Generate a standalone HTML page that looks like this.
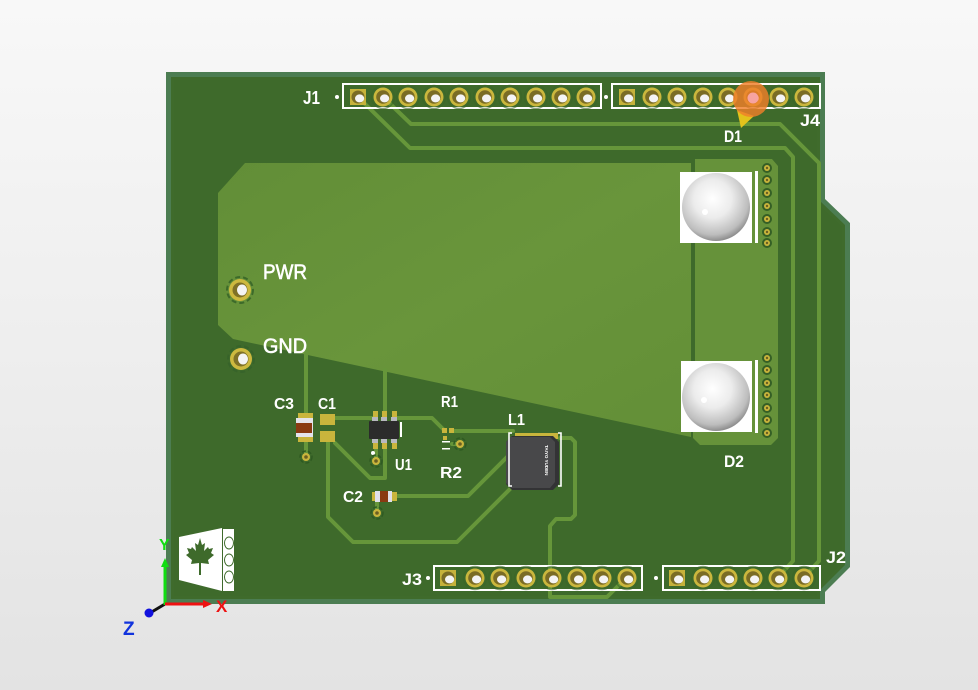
<!DOCTYPE html>
<html><head><meta charset="utf-8"><style>
html,body{margin:0;padding:0;width:978px;height:690px;overflow:hidden;}
body{background:linear-gradient(#f8f8f8 0%,#eeeeee 50%,#e3e3e3 100%);}
svg{display:block}
text{font-family:"Liberation Sans","DejaVu Sans",sans-serif;font-weight:bold;fill:#ffffff}
</style></head><body>
<svg width="978" height="690" viewBox="0 0 978 690" xmlns="http://www.w3.org/2000/svg">
<defs>
  <radialGradient id="sph" cx="0.45" cy="0.38" r="0.62">
    <stop offset="0" stop-color="#ffffff"/>
    <stop offset="0.45" stop-color="#ececec"/>
    <stop offset="0.85" stop-color="#bdbdbd"/>
    <stop offset="1" stop-color="#8f8f8f"/>
  </radialGradient>
  <linearGradient id="pour" x1="0" y1="0" x2="1" y2="1">
    <stop offset="0" stop-color="#628e37"/>
    <stop offset="0.5" stop-color="#69953b"/>
    <stop offset="1" stop-color="#638f37"/>
  </linearGradient>
  <g id="rp">
    <circle r="11.5" fill="none" stroke="#3a6528" stroke-width="1.5" stroke-opacity="0.6"/>
    <circle r="9.5" fill="#cbb73d"/>
    <circle r="6.8" fill="#7a6c25"/>
    <ellipse cx="1.6" cy="1.4" rx="4.6" ry="4" fill="#f4f4f4"/>
  </g>
  <g id="sp">
    <rect x="-8" y="-8" width="16" height="16" fill="#c6b23b"/>
    <circle r="6.5" fill="#7a6c25"/>
    <ellipse cx="1.6" cy="1.4" rx="4.6" ry="4" fill="#f4f4f4"/>
  </g>
  <g id="via">
    <circle r="6" fill="none" stroke="#2f5a22" stroke-width="1.5" stroke-dasharray="4 2"/>
    <circle r="4" fill="#c9b53c"/>
    <circle r="1.8" fill="#6b5f22"/>
  </g>
  <g id="dp">
    <circle r="5" fill="#355f25"/>
    <circle r="3" fill="#c9b53c"/>
    <circle r="1.2" fill="#6b5f22"/>
  </g>
</defs>

<!-- board -->
<polygon points="166,72 825,72 825,199 850,223 850,567 825,592 825,604 166,604" fill="#4c7d52"/>
<polygon points="171,77 820,77 820,201 845,225 845,565 820,590 820,599 171,599" fill="#3f6b2c"/>
<polygon points="174,80 817,80 817,203 842,227 842,563 817,588 817,596 174,596" fill="#3e6a2b"/>

<!-- copper pour -->
<polygon points="218,193 245,163 691,163 691,437 233,339 218,325" fill="url(#pour)"/>
<polygon points="695,159 772,159 778,166 778,438 771,445 700,445 693,438 693,420 695,420" fill="#66923a"/>

<!-- traces -->
<g fill="none" stroke="#66963a" stroke-width="4" stroke-linejoin="round" stroke-linecap="round">
  <polyline points="358,97 410,148 785,148 793,157 793,561 778,577"/>
  <polyline points="383,97 411,124 780,124 819,163 819,561 804,577"/>
  <polyline points="306,338 306,414"/>
  <polyline points="385,370 385,414"/>
  <polyline points="335,418 372,418"/>
  <polyline points="397,418 432,418 444,430"/>
  <polyline points="452,431 513,431"/>
  <polyline points="328,442 328,517 353,542 457,542 515,484"/>
  <polyline points="335,443 370,478 385,478 385,446"/>
  <polyline points="396,496 468,496 508,456"/>
  <polyline points="560,438 571,438 575,442 575,515 571,519 556,519 550,526 550,597 607,597 626,578"/>
  <polyline points="306,442 306,457"/>
  <polyline points="376,449 376,461"/>
  <polyline points="377,500 377,513"/>
  <polyline points="452,444 460,444"/>
</g>

<!-- J1 -->
<rect x="343" y="84" width="258" height="24" fill="none" stroke="#ffffff" stroke-width="2"/>
<circle cx="337" cy="97" r="2" fill="#fff"/>
<use href="#sp" x="358" y="97"/>
<use href="#rp" x="383" y="97"/><use href="#rp" x="408" y="97"/><use href="#rp" x="434" y="97"/>
<use href="#rp" x="459" y="97"/><use href="#rp" x="485" y="97"/><use href="#rp" x="510" y="97"/>
<use href="#rp" x="536" y="97"/><use href="#rp" x="561" y="97"/><use href="#rp" x="586" y="97"/>
<text x="303" y="104" font-size="18" textLength="17" lengthAdjust="spacingAndGlyphs">J1</text>

<!-- J4 -->
<rect x="612" y="84" width="208" height="24" fill="none" stroke="#ffffff" stroke-width="2"/>
<circle cx="606" cy="97" r="2" fill="#fff"/>
<use href="#sp" x="627" y="97"/>
<use href="#rp" x="652" y="97"/><use href="#rp" x="677" y="97"/><use href="#rp" x="703" y="97"/>
<use href="#rp" x="728" y="97"/><use href="#rp" x="753" y="97"/><use href="#rp" x="779" y="97"/>
<use href="#rp" x="804" y="97"/>
<text x="800" y="126" font-size="17" textLength="20" lengthAdjust="spacingAndGlyphs">J4</text>

<!-- D1 marker -->
<polygon points="737,110 754,116 741,128" fill="#e3c21c"/>
<circle cx="751" cy="99" r="18" fill="#f07f2a" fill-opacity="0.82"/>
<circle cx="753" cy="98" r="5.5" fill="#f7a3a0"/>
<text x="724" y="142" font-size="17" textLength="18" lengthAdjust="spacingAndGlyphs">D1</text>

<!-- D1 -->
<rect x="680" y="172" width="72" height="71" fill="#ffffff"/>
<circle cx="716" cy="207" r="34" fill="url(#sph)"/>
<circle cx="705" cy="212" r="3" fill="#ffffff"/>
<rect x="755" y="171" width="3" height="72" fill="#ffffff"/>
<use href="#dp" x="767" y="168"/><use href="#dp" x="767" y="180"/><use href="#dp" x="767" y="193"/>
<use href="#dp" x="767" y="206"/><use href="#dp" x="767" y="219"/><use href="#dp" x="767" y="232"/>
<use href="#dp" x="767" y="243"/>

<!-- D2 -->
<rect x="681" y="361" width="71" height="71" fill="#ffffff"/>
<circle cx="716" cy="397" r="34" fill="url(#sph)"/>
<circle cx="704" cy="400" r="3" fill="#ffffff"/>
<rect x="755" y="360" width="3" height="73" fill="#ffffff"/>
<use href="#dp" x="767" y="358"/><use href="#dp" x="767" y="370"/><use href="#dp" x="767" y="383"/>
<use href="#dp" x="767" y="395"/><use href="#dp" x="767" y="408"/><use href="#dp" x="767" y="420"/>
<use href="#dp" x="767" y="433"/>
<text x="724" y="467" font-size="17" textLength="20" lengthAdjust="spacingAndGlyphs">D2</text>

<!-- PWR / GND -->
<circle cx="240" cy="290" r="13" fill="none" stroke="#3d6a2a" stroke-width="2" stroke-dasharray="5 3"/>
<circle cx="240" cy="290" r="11" fill="#cdb93f"/>
<circle cx="240" cy="290" r="7.5" fill="#7f7127"/>
<ellipse cx="242" cy="290" rx="5" ry="5.5" fill="#f4f4f4"/>
<circle cx="241" cy="359" r="13" fill="none" stroke="#37632a" stroke-width="2" stroke-dasharray="5 3"/>
<circle cx="241" cy="359" r="11" fill="#cdb93f"/>
<circle cx="241" cy="359" r="7.5" fill="#7f7127"/>
<ellipse cx="243" cy="359" rx="5" ry="5.5" fill="#f4f4f4"/>
<text x="263" y="279" font-size="21" textLength="44" lengthAdjust="spacingAndGlyphs" style="font-weight:normal;stroke:#fff;stroke-width:0.6">PWR</text>
<text x="263" y="353" font-size="21" textLength="44" lengthAdjust="spacingAndGlyphs" style="font-weight:normal;stroke:#fff;stroke-width:0.6">GND</text>

<!-- C3 -->
<rect x="298" y="413" width="15" height="29" fill="#c9b53c"/>
<rect x="296" y="418" width="17" height="19" fill="#e4e4ec"/>
<rect x="296" y="423" width="16" height="10" fill="#8a3a12"/>
<use href="#via" x="306" y="457"/>
<text x="274" y="409" font-size="16" textLength="20" lengthAdjust="spacingAndGlyphs">C3</text>

<!-- C1 -->
<rect x="320" y="414" width="15" height="11" fill="#c9b53c"/>
<rect x="320" y="431" width="15" height="11" fill="#c9b53c"/>
<text x="318" y="409" font-size="16" textLength="18" lengthAdjust="spacingAndGlyphs">C1</text>

<!-- U1 -->
<g fill="#c9b53c">
  <rect x="373" y="411" width="5" height="11"/><rect x="382" y="411" width="5" height="11"/><rect x="392" y="411" width="5" height="11"/>
  <rect x="373" y="438" width="5" height="11"/><rect x="382" y="438" width="5" height="11"/><rect x="392" y="438" width="5" height="11"/>
</g>
<g fill="#b8b8c0">
  <rect x="372" y="417" width="6" height="4"/><rect x="381" y="417" width="6" height="4"/><rect x="391" y="417" width="6" height="4"/>
  <rect x="372" y="439" width="6" height="4"/><rect x="381" y="439" width="6" height="4"/><rect x="391" y="439" width="6" height="4"/>
</g>
<rect x="369" y="421" width="30" height="18" rx="1" fill="#2b2b2b"/>
<rect x="400" y="422" width="2" height="15" fill="#ffffff"/>
<circle cx="373" cy="453" r="2" fill="#ffffff"/>
<use href="#via" x="376" y="461"/>
<text x="395" y="470" font-size="16" textLength="17" lengthAdjust="spacingAndGlyphs">U1</text>

<!-- R1 / R2 -->
<rect x="442" y="428" width="5" height="5" fill="#c9b53c"/>
<rect x="449" y="428" width="5" height="5" fill="#c9b53c"/>
<rect x="443" y="436" width="4" height="4" fill="#c9b53c"/>
<rect x="442" y="441" width="8" height="1.5" fill="#ffffff"/>
<rect x="442" y="448" width="8" height="1.5" fill="#ffffff"/>
<use href="#via" x="460" y="444"/>
<text x="441" y="407" font-size="16" textLength="17" lengthAdjust="spacingAndGlyphs">R1</text>
<text x="440" y="478" font-size="16" textLength="22" lengthAdjust="spacingAndGlyphs">R2</text>

<!-- L1 -->
<rect x="515" y="433" width="43" height="6" fill="#c9b53c"/>
<path d="M512,436 L553,436 L559,442 L559,484 L553,490 L512,490 L506,484 L506,442 Z" fill="#333335"/>
<path d="M510,437 L550,437 L555,442 L555,482 L550,488 L511,488 L506,483 L506,442 Z" fill="#48484a"/>
<text x="0" y="0" font-size="4.5" font-weight="normal" transform="translate(545,445) rotate(90)" fill="#dddddd">TAIYO YUDEN</text>
<g fill="none" stroke="#ffffff" stroke-width="1.6">
  <polyline points="512,433 509,433 509,486 512,486"/>
  <polyline points="558,433 561,433 561,486 558,486"/>
</g>
<text x="508" y="425" font-size="16" textLength="17" lengthAdjust="spacingAndGlyphs">L1</text>

<!-- C2 -->
<rect x="372" y="492" width="25" height="9" fill="#c9b53c"/>
<rect x="375" y="491" width="17" height="11" fill="#e0e0ea"/>
<rect x="380" y="491" width="8" height="11" fill="#8a3a12"/>
<use href="#via" x="377" y="513"/>
<text x="343" y="502" font-size="16" textLength="20" lengthAdjust="spacingAndGlyphs">C2</text>

<!-- J3 -->
<rect x="434" y="566" width="208" height="24" fill="none" stroke="#ffffff" stroke-width="2"/>
<circle cx="428" cy="578" r="2" fill="#fff"/>
<use href="#sp" x="448" y="578"/>
<use href="#rp" x="475" y="578"/><use href="#rp" x="500" y="578"/><use href="#rp" x="526" y="578"/>
<use href="#rp" x="552" y="578"/><use href="#rp" x="577" y="578"/><use href="#rp" x="602" y="578"/>
<use href="#rp" x="627" y="578"/>
<text x="402" y="585" font-size="17" textLength="20" lengthAdjust="spacingAndGlyphs">J3</text>

<!-- J2 -->
<rect x="663" y="566" width="157" height="24" fill="none" stroke="#ffffff" stroke-width="2"/>
<circle cx="656" cy="578" r="2" fill="#fff"/>
<use href="#sp" x="677" y="578"/>
<use href="#rp" x="703" y="578"/><use href="#rp" x="728" y="578"/><use href="#rp" x="753" y="578"/>
<use href="#rp" x="778" y="578"/><use href="#rp" x="804" y="578"/>
<text x="826" y="563" font-size="17" textLength="20" lengthAdjust="spacingAndGlyphs">J2</text>

<!-- logo -->
<polygon points="179,537 222,528 222,591 179,580" fill="#ffffff"/>
<rect x="223" y="529" width="11" height="62" fill="#ffffff"/>
<g fill="#ffffff" stroke="#3e6a2b" stroke-width="1">
  <ellipse cx="229" cy="543" rx="4.5" ry="6"/>
  <ellipse cx="229" cy="560" rx="4.5" ry="6"/>
  <ellipse cx="229" cy="577" rx="4.5" ry="6"/>
</g>
<path d="M200,538 L202,545 L205,543 L204,551 L208,547 L209,549 L213,548 L211,553 L214,555 L208,560 L209,564 L201,563 L201,575 L199,575 L199,563 L191,564 L192,560 L186,555 L189,553 L187,548 L191,549 L192,547 L196,551 L195,543 L198,545 Z" fill="#3e6a2b"/>

<!-- axes -->
<line x1="165" y1="604" x2="150" y2="613" stroke="#111" stroke-width="3"/>
<line x1="165" y1="605" x2="165" y2="566" stroke="#11dd11" stroke-width="3"/>
<polygon points="161,567 169,567 165,558" fill="#11dd11"/>
<line x1="165" y1="604" x2="204" y2="604" stroke="#ee1111" stroke-width="3"/>
<polygon points="203,600 203,608 212,604" fill="#ee1111"/>
<circle cx="149" cy="613" r="4.5" fill="#1111dd"/>
<text x="159" y="550" font-size="16" font-weight="normal" style="fill:#11dd11">Y</text>
<text x="216" y="612" font-size="17" font-weight="normal" style="fill:#ee1111">X</text>
<text x="123" y="635" font-size="19" font-weight="normal" style="fill:#1133dd">Z</text>
</svg>
</body></html>
